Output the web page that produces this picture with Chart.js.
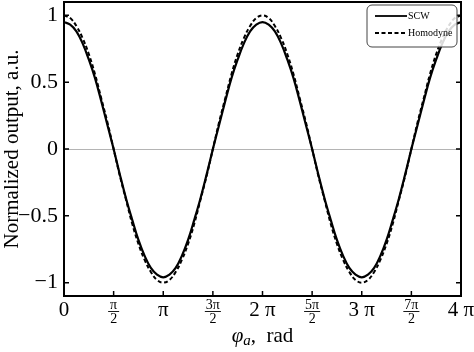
<!DOCTYPE html>
<html><head><meta charset="utf-8">
<script src="https://cdn.jsdelivr.net/npm/chart.js@4/dist/chart.umd.min.js"></script>
<style>html,body{margin:0;padding:0;background:#fff;overflow:hidden}#wrap{width:474px;height:352px}</style>
</head><body><div id="wrap"><canvas id="c"></canvas></div>
<script>
// phase in units of π (step π/16)
const phaseInPi = [0,0.0625,0.125,0.1875,0.25,0.3125,0.375,0.4375,0.5,0.5625,0.625,0.6875,0.75,0.8125,0.875,0.9375,
  1,1.0625,1.125,1.1875,1.25,1.3125,1.375,1.4375,1.5,1.5625,1.625,1.6875,1.75,1.8125,1.875,1.9375,
  2,2.0625,2.125,2.1875,2.25,2.3125,2.375,2.4375,2.5,2.5625,2.625,2.6875,2.75,2.8125,2.875,2.9375,
  3,3.0625,3.125,3.1875,3.25,3.3125,3.375,3.4375,3.5,3.5625,3.625,3.6875,3.75,3.8125,3.875,3.9375,4];
const scwValues = [0.95,0.93,0.88,0.79,0.67,0.53,0.36,0.18,0,-0.19,-0.37,-0.53,-0.68,-0.80,-0.89,-0.94,
  -0.96,-0.94,-0.89,-0.80,-0.68,-0.53,-0.37,-0.19,0,0.18,0.36,0.53,0.67,0.79,0.88,0.93,
  0.95,0.93,0.88,0.79,0.67,0.53,0.36,0.18,0,-0.19,-0.37,-0.53,-0.68,-0.80,-0.89,-0.94,
  -0.96,-0.94,-0.89,-0.80,-0.68,-0.53,-0.37,-0.19,0,0.18,0.36,0.53,0.67,0.79,0.88,0.93,0.95];
const homodyneValues = [1,0.98,0.92,0.83,0.71,0.56,0.38,0.2,0,-0.2,-0.38,-0.56,-0.71,-0.83,-0.92,-0.98,
  -1,-0.98,-0.92,-0.83,-0.71,-0.56,-0.38,-0.2,0,0.2,0.38,0.56,0.71,0.83,0.92,0.98,
  1,0.98,0.92,0.83,0.71,0.56,0.38,0.2,0,-0.2,-0.38,-0.56,-0.71,-0.83,-0.92,-0.98,
  -1,-0.98,-0.92,-0.83,-0.71,-0.56,-0.38,-0.2,0,0.2,0.38,0.56,0.71,0.83,0.92,0.98,1];
const seriesNames = ['SCW','Homodyne'];
const xTickValues = [0,0.5,1,1.5,2,2.5,3,3.5,4];
const xTickLabels = ['0','π/2','π','3π/2','2 π','5π/2','3 π','7π/2','4 π'];
const yTickValues = [-1,-0.5,0,0.5,1];
const yTickLabels = ['−1','−0.5','0','0.5','1'];
const xTitle = ['φ','a',',  rad'];
const yTitle = 'Normalized output, a.u.';

const SERIF = '"Liberation Serif", "DejaVu Serif", serif';

const decor = {
  id: 'decor',
  beforeDatasetsDraw(chart) {
    const {ctx, chartArea: a, scales: {y}} = chart;
    ctx.save();
    ctx.strokeStyle = '#b4b4b4'; ctx.lineWidth = 1;
    const y0 = Math.round(y.getPixelForValue(0)) + 0.5;
    ctx.beginPath(); ctx.moveTo(a.left, y0); ctx.lineTo(a.right, y0); ctx.stroke();
    ctx.restore();
  },
  afterDraw(chart) {
    const {ctx, chartArea: a, scales: {x, y}} = chart;
    ctx.save();
    ctx.strokeStyle = '#000'; ctx.lineWidth = 2;
    ctx.strokeRect(a.left, a.top, a.right - a.left, a.bottom - a.top);
    ctx.lineWidth = 1.5;
    yTickValues.forEach(v => {
      const py = y.getPixelForValue(v);
      ctx.beginPath(); ctx.moveTo(a.left, py); ctx.lineTo(a.left + 5, py);
      ctx.moveTo(a.right, py); ctx.lineTo(a.right - 5, py); ctx.stroke();
    });
    ctx.fillStyle = '#000'; ctx.textAlign = 'center'; ctx.textBaseline = 'middle';
    xTickValues.forEach((v, i) => {
      const px = x.getPixelForValue(v);
      ctx.beginPath(); ctx.moveTo(px, a.bottom); ctx.lineTo(px, a.bottom - 5); ctx.stroke();
      const lab = xTickLabels[i];
      if (lab.includes('/')) {
        const [num, den] = lab.split('/');
        ctx.font = '14px ' + SERIF;
        ctx.fillText(num, px, a.bottom + 9);
        ctx.fillText(den, px, a.bottom + 23);
        const w = Math.max(ctx.measureText(num).width, 9);
        ctx.lineWidth = 0.9;
        ctx.beginPath(); ctx.moveTo(px - w / 2 - 1, a.bottom + 15.5); ctx.lineTo(px + w / 2 + 1, a.bottom + 15.5); ctx.stroke();
        ctx.lineWidth = 1.5;
      } else {
        ctx.font = '21px ' + SERIF;
        ctx.fillText(lab, px, a.bottom + 14);
      }
    });
    const cx = (a.left + a.right) / 2, by = a.bottom + 46;
    ctx.textAlign = 'left'; ctx.textBaseline = 'alphabetic';
    const f1 = 'italic 21px ' + SERIF, f2 = 'italic 15px ' + SERIF, f3 = '21px ' + SERIF;
    ctx.font = f1; const w1 = ctx.measureText(xTitle[0]).width;
    ctx.font = f2; const w2 = ctx.measureText(xTitle[1]).width;
    ctx.font = f3; const w3 = ctx.measureText(xTitle[2]).width;
    let sx = cx - (w1 + w2 + w3) / 2;
    ctx.font = f1; ctx.fillText(xTitle[0], sx, by); sx += w1;
    ctx.font = f2; ctx.fillText(xTitle[1], sx, by + 3); sx += w2;
    ctx.font = f3; ctx.fillText(xTitle[2], sx, by);
    const lx = a.right - 94, ly = a.top + 3, lw = 90, lh = 42, r = 5;
    ctx.beginPath();
    ctx.moveTo(lx + r, ly); ctx.lineTo(lx + lw - r, ly); ctx.arcTo(lx + lw, ly, lx + lw, ly + r, r);
    ctx.lineTo(lx + lw, ly + lh - r); ctx.arcTo(lx + lw, ly + lh, lx + lw - r, ly + lh, r);
    ctx.lineTo(lx + r, ly + lh); ctx.arcTo(lx, ly + lh, lx, ly + lh - r, r);
    ctx.lineTo(lx, ly + r); ctx.arcTo(lx, ly, lx + r, ly, r); ctx.closePath();
    ctx.fillStyle = 'rgba(255,255,255,0.85)'; ctx.fill();
    ctx.strokeStyle = '#444'; ctx.lineWidth = 1; ctx.stroke();
    chart.data.datasets.forEach((ds, i) => {
      const ry = ly + 11 + i * 17;
      ctx.strokeStyle = '#000'; ctx.lineWidth = 1.8;
      ctx.setLineDash(ds.borderDash || []);
      ctx.beginPath(); ctx.moveTo(lx + 8, ry); ctx.lineTo(lx + 40, ry); ctx.stroke();
      ctx.setLineDash([]);
      ctx.fillStyle = '#000'; ctx.font = '10px ' + SERIF; ctx.textBaseline = 'middle';
      ctx.fillText(ds.label, lx + 41, ry);
    });
    ctx.restore();
  }
};

new Chart(document.getElementById('c'), {
  type: 'line',
  data: {
    datasets: [
      { label: seriesNames[0], data: phaseInPi.map((p, i) => ({x: p, y: scwValues[i]})),
        borderColor: '#000', borderWidth: 2.2, pointRadius: 0, tension: 0.4, fill: false },
      { label: seriesNames[1], data: phaseInPi.map((p, i) => ({x: p, y: homodyneValues[i]})),
        borderColor: '#000', borderWidth: 2, borderDash: [4, 2.5], pointRadius: 0, tension: 0.4, fill: false }
    ]
  },
  options: {
    responsive: true, maintainAspectRatio: false, animation: false,
    layout: { padding: { left: 0, right: 13, top: 2, bottom: 0 } },
    plugins: { legend: { display: false }, tooltip: { enabled: false } },
    scales: {
      x: { type: 'linear', min: 0, max: 4,
        grid: { display: false, drawTicks: false }, border: { display: false },
        ticks: { display: false },
        afterFit(s) { s.height = 56; s.paddingLeft = 0; s.paddingRight = 0; } },
      y: { type: 'linear', min: -1.1, max: 1.1,
        grid: { display: false, drawTicks: false }, border: { display: false },
        afterBuildTicks(s) { s.ticks = yTickValues.map(v => ({value: v})); },
        ticks: { color: '#000', padding: 6, font: { family: SERIF, size: 22 },
          callback: (v) => yTickLabels[yTickValues.indexOf(v)] },
        title: { display: true, text: yTitle, color: '#000', font: { family: SERIF, size: 21 }, padding: { top: 0, bottom: 0 } },
        afterFit(s) { s.width = 64; s.paddingTop = 0; s.paddingBottom = 0; } }
    }
  },
  plugins: [decor]
});
</script></body></html>
